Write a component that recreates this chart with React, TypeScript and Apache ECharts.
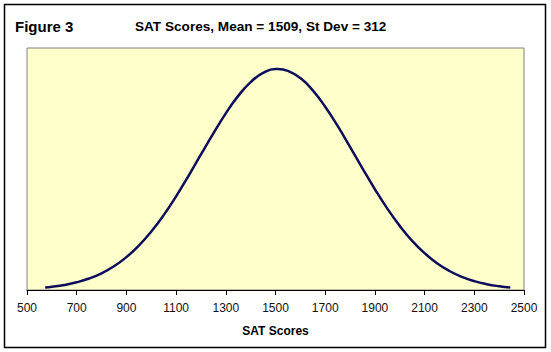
import React, { useEffect, useRef } from "react";
import * as echarts from "echarts";

// SAT score values (x) and density heights (y)
const scores = [573, 600, 650, 700, 750, 800, 850, 900, 950, 1000, 1050, 1100, 1150, 1200, 1250, 1300, 1350, 1400, 1450, 1500, 1509, 1550, 1600, 1650, 1700, 1750, 1800, 1850, 1900, 1950, 2000, 2050, 2100, 2150, 2200, 2250, 2300, 2350, 2400, 2445];
const density = [0.0000142, 0.0000184, 0.0000289, 0.0000444, 0.0000664, 0.0000967, 0.000137, 0.00019, 0.000257, 0.000338, 0.000433, 0.000542, 0.00066, 0.000784, 0.000906, 0.001022, 0.001123, 0.001203, 0.001256, 0.001279, 0.001279, 0.001268, 0.001226, 0.001155, 0.00106, 0.000949, 0.000828, 0.000704, 0.000583, 0.000471, 0.000371, 0.000284, 0.000213, 0.000155, 0.00011, 0.0000762, 0.0000514, 0.0000338, 0.0000217, 0.0000142];

const xMin = 500;
const xMax = 2500;
const xInterval = 200;
const figureLabel = "Figure 3";
const chartTitle = "SAT Scores, Mean = 1509, St Dev = 312";
const xAxisName = "SAT Scores";

export default function App() {
  const ref = useRef<HTMLDivElement>(null);
  useEffect(() => {
    document.body.style.margin = "0";
    const chart = echarts.init(ref.current!, null, { renderer: "svg" });
    const data = scores.map((s, i) => [s, density[i]]);
    chart.setOption({
      animation: false,
      backgroundColor: "#ffffff",
      title: [
        {
          text: figureLabel,
          left: 10,
          top: 14,
          textStyle: { fontFamily: "Liberation Sans, Arial", fontWeight: "bold", fontSize: 15, color: "#000" },
        },
        {
          text: chartTitle,
          left: 130,
          top: 14,
          textStyle: { fontFamily: "Liberation Sans, Arial", fontWeight: "bold", fontSize: 13.6, color: "#000" },
        },
      ],
      graphic: [
        {
          type: "rect",
          shape: { x: 4.5, y: 4.5, width: 541, height: 343 },
          style: { fill: "none", stroke: "#000", lineWidth: 1.5 },
          silent: true,
        },
      ],
      grid: {
        left: 27,
        top: 48,
        width: 497,
        height: 242,
        show: true,
        backgroundColor: "#FFFFCC",
        borderColor: "#808080",
        borderWidth: 1,
      },
      xAxis: {
        type: "value",
        min: xMin,
        max: xMax,
        interval: xInterval,
        name: xAxisName,
        nameLocation: "middle",
        nameGap: 35,
        nameTextStyle: { fontFamily: "Liberation Sans, Arial", fontWeight: "bold", fontSize: 12, color: "#000" },
        axisLine: { show: true, lineStyle: { color: "#000", width: 1 } },
        axisTick: { show: true, inside: false, length: 5, lineStyle: { color: "#000" } },
        axisLabel: {
          fontFamily: "Liberation Sans, Arial",
          fontSize: 12,
          color: "#111",
          margin: 12,
          formatter: (v: number) => String(v),
        },
        splitLine: { show: false },
      },
      yAxis: {
        type: "value",
        min: 0,
        max: 0.0014,
        show: false,
        splitLine: { show: false },
      },
      series: [
        {
          type: "line",
          data,
          smooth: true,
          showSymbol: false,
          lineStyle: { color: "#0d0d5c", width: 2.5 },
        },
      ],
    });
    return () => chart.dispose();
  }, []);
  return <div ref={ref} style={{ width: 551, height: 352 }} />;
}
